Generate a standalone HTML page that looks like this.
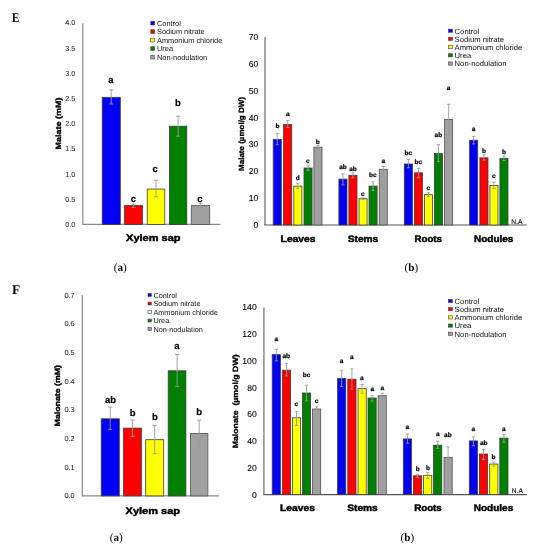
<!DOCTYPE html>
<html><head><meta charset="utf-8"><title>Figure E F</title>
<style>
html,body{margin:0;padding:0;background:#fff;}
svg{display:block;font-family:"Liberation Sans",sans-serif;text-rendering:geometricPrecision;}
</style></head><body>
<svg width="540" height="550" viewBox="0 0 540 550">
<rect width="540" height="550" fill="#fff"/>
<text x="11.9" y="21.9" font-size="13.4" text-anchor="start" font-weight="bold" fill="#000" textLength="7.3" lengthAdjust="spacingAndGlyphs" font-family="Liberation Serif, serif">E</text>
<text x="75.4" y="226.9" font-size="7.3" text-anchor="end" font-weight="normal" fill="#333" stroke="#333" stroke-width="0.06">0.0</text>
<text x="75.4" y="201.7" font-size="7.3" text-anchor="end" font-weight="normal" fill="#333" stroke="#333" stroke-width="0.06">0.5</text>
<text x="75.4" y="176.5" font-size="7.3" text-anchor="end" font-weight="normal" fill="#333" stroke="#333" stroke-width="0.06">1.0</text>
<text x="75.4" y="151.3" font-size="7.3" text-anchor="end" font-weight="normal" fill="#333" stroke="#333" stroke-width="0.06">1.5</text>
<text x="75.4" y="126.1" font-size="7.3" text-anchor="end" font-weight="normal" fill="#333" stroke="#333" stroke-width="0.06">2.0</text>
<text x="75.4" y="100.9" font-size="7.3" text-anchor="end" font-weight="normal" fill="#333" stroke="#333" stroke-width="0.06">2.5</text>
<text x="75.4" y="75.7" font-size="7.3" text-anchor="end" font-weight="normal" fill="#333" stroke="#333" stroke-width="0.06">3.0</text>
<text x="75.4" y="50.5" font-size="7.3" text-anchor="end" font-weight="normal" fill="#333" stroke="#333" stroke-width="0.06">3.5</text>
<text x="75.4" y="25.3" font-size="7.3" text-anchor="end" font-weight="normal" fill="#333" stroke="#333" stroke-width="0.06">4.0</text>
<path d="M82.8 23.2V224.4H220.5" stroke="#8a8a8a" stroke-width="1.2" fill="none"/>
<text x="0.0" y="0.0" font-size="7.6" text-anchor="middle" font-weight="bold" fill="#000" transform="translate(60.6 123.5) rotate(-90)" textLength="51.8" lengthAdjust="spacingAndGlyphs" stroke="#000" stroke-width="0.35">Malate (mM)</text>
<rect x="102.2" y="97.3" width="18.1" height="127.1" fill="#0000f5" stroke="#3e3e3e" stroke-width="0.8"/>
<path d="M111.2 90.0V104.0M109.2 90.0h4.0M109.2 104.0h4.0" stroke="#9a9a9a" stroke-width="0.9" fill="none"/>
<rect x="124.6" y="205.4" width="17.9" height="19.0" fill="#ff0000" stroke="#3e3e3e" stroke-width="0.8"/>
<path d="M133.6 204.0V207.3M131.6 204.0h4.0M131.6 207.3h4.0" stroke="#9a9a9a" stroke-width="0.9" fill="none"/>
<rect x="147.2" y="189.0" width="17.6" height="35.4" fill="#ffff00" stroke="#3e3e3e" stroke-width="0.8"/>
<path d="M156.0 180.2V196.7M154.0 180.2h4.0M154.0 196.7h4.0" stroke="#9a9a9a" stroke-width="0.9" fill="none"/>
<rect x="169.4" y="126.2" width="17.4" height="98.2" fill="#008000" stroke="#3e3e3e" stroke-width="0.8"/>
<path d="M178.1 116.2V136.2M176.1 116.2h4.0M176.1 136.2h4.0" stroke="#9a9a9a" stroke-width="0.9" fill="none"/>
<rect x="191.3" y="205.6" width="18.4" height="18.8" fill="#a0a0a0" stroke="#525252" stroke-width="0.8"/>
<path d="M200.5 203.3V207.6M198.5 203.3h4.0M198.5 207.6h4.0" stroke="#9a9a9a" stroke-width="0.9" fill="none"/>
<text x="110.8" y="82.9" font-size="9.5" text-anchor="middle" font-weight="bold" fill="#000" stroke="#000" stroke-width="0.18">a</text>
<text x="133.4" y="202.2" font-size="9.5" text-anchor="middle" font-weight="bold" fill="#000" stroke="#000" stroke-width="0.18">c</text>
<text x="155.2" y="172.0" font-size="9.5" text-anchor="middle" font-weight="bold" fill="#000" stroke="#000" stroke-width="0.18">c</text>
<text x="178.0" y="106.0" font-size="9.5" text-anchor="middle" font-weight="bold" fill="#000" stroke="#000" stroke-width="0.18">b</text>
<text x="200.0" y="202.4" font-size="9.5" text-anchor="middle" font-weight="bold" fill="#000" stroke="#000" stroke-width="0.18">c</text>
<text x="153.3" y="240.7" font-size="9.4" text-anchor="middle" font-weight="bold" fill="#000" textLength="54.5" lengthAdjust="spacingAndGlyphs" stroke="#000" stroke-width="0.45">Xylem sap</text>
<rect x="150.8" y="21.2" width="3.8" height="3.8" fill="#0000f5" stroke="#444" stroke-width="0.6"/>
<text x="157.0" y="25.8" font-size="7.4" text-anchor="start" font-weight="normal" fill="#111" >Control</text>
<rect x="150.8" y="29.7" width="3.8" height="3.8" fill="#ff0000" stroke="#444" stroke-width="0.6"/>
<text x="157.0" y="34.3" font-size="7.4" text-anchor="start" font-weight="normal" fill="#111" >Sodium nitrate</text>
<rect x="150.8" y="38.2" width="3.8" height="3.8" fill="#ffff00" stroke="#444" stroke-width="0.6"/>
<text x="157.0" y="42.8" font-size="7.4" text-anchor="start" font-weight="normal" fill="#111" >Ammonium chloride</text>
<rect x="150.8" y="46.7" width="3.8" height="3.8" fill="#008000" stroke="#444" stroke-width="0.6"/>
<text x="157.0" y="51.3" font-size="7.4" text-anchor="start" font-weight="normal" fill="#111" >Urea</text>
<rect x="150.8" y="55.2" width="3.8" height="3.8" fill="#a0a0a0" stroke="#444" stroke-width="0.6"/>
<text x="157.0" y="59.8" font-size="7.4" text-anchor="start" font-weight="normal" fill="#111" >Non-nodulation</text>
<text x="120.2" y="270.9" font-size="11.1" text-anchor="middle" font-weight="normal" fill="#000" font-family="Liberation Serif, serif">(<tspan font-weight="bold">a</tspan>)</text>
<text x="258.2" y="228.0" font-size="8.6" text-anchor="end" font-weight="normal" fill="#000" stroke="#000" stroke-width="0.08">0</text>
<text x="258.2" y="201.1" font-size="8.6" text-anchor="end" font-weight="normal" fill="#000" stroke="#000" stroke-width="0.08">10</text>
<text x="258.2" y="174.3" font-size="8.6" text-anchor="end" font-weight="normal" fill="#000" stroke="#000" stroke-width="0.08">20</text>
<text x="258.2" y="147.4" font-size="8.6" text-anchor="end" font-weight="normal" fill="#000" stroke="#000" stroke-width="0.08">30</text>
<text x="258.2" y="120.6" font-size="8.6" text-anchor="end" font-weight="normal" fill="#000" stroke="#000" stroke-width="0.08">40</text>
<text x="258.2" y="93.7" font-size="8.6" text-anchor="end" font-weight="normal" fill="#000" stroke="#000" stroke-width="0.08">50</text>
<text x="258.2" y="66.8" font-size="8.6" text-anchor="end" font-weight="normal" fill="#000" stroke="#000" stroke-width="0.08">60</text>
<text x="258.2" y="40.0" font-size="8.6" text-anchor="end" font-weight="normal" fill="#000" stroke="#000" stroke-width="0.08">70</text>
<path d="M265.0 37V225.0" stroke="#777" stroke-width="1.3" fill="none"/><path d="M264.4 225.0H526.8" stroke="#555" stroke-width="1.1" fill="none"/>
<text x="0.0" y="0.0" font-size="7.6" text-anchor="middle" font-weight="bold" fill="#000" transform="translate(243.6 134) rotate(-90)" textLength="73.8" lengthAdjust="spacingAndGlyphs" stroke="#000" stroke-width="0.3">Malate (µmol/g DW)</text>
<rect x="273.2" y="139.4" width="8.1" height="85.6" fill="#0000f5" stroke="#3e3e3e" stroke-width="0.8"/>
<path d="M277.2 133.4V144.7M275.6 133.4h3.2M275.6 144.7h3.2" stroke="#9a9a9a" stroke-width="0.9" fill="none"/>
<rect x="283.6" y="124.4" width="8.1" height="100.6" fill="#ff0000" stroke="#3e3e3e" stroke-width="0.8"/>
<path d="M287.7 120.6V127.6M286.1 120.6h3.2M286.1 127.6h3.2" stroke="#9a9a9a" stroke-width="0.9" fill="none"/>
<rect x="293.8" y="186.1" width="8.1" height="38.9" fill="#ffff00" stroke="#3e3e3e" stroke-width="0.8"/>
<path d="M297.9 183.3V188.4M296.2 183.3h3.2M296.2 188.4h3.2" stroke="#9a9a9a" stroke-width="0.9" fill="none"/>
<rect x="304.0" y="168.0" width="8.1" height="57.0" fill="#008000" stroke="#3e3e3e" stroke-width="0.8"/>
<path d="M308.1 165.3V170.3M306.4 165.3h3.2M306.4 170.3h3.2" stroke="#9a9a9a" stroke-width="0.9" fill="none"/>
<rect x="313.9" y="147.2" width="8.1" height="77.8" fill="#a0a0a0" stroke="#525252" stroke-width="0.8"/>
<path d="M317.9 145.7V148.4M316.3 145.7h3.2M316.3 148.4h3.2" stroke="#9a9a9a" stroke-width="0.9" fill="none"/>
<text x="277.4" y="128.4" font-size="6.5" text-anchor="middle" font-weight="bold" fill="#000" stroke="#000" stroke-width="0.22">b</text>
<text x="287.7" y="116.4" font-size="6.5" text-anchor="middle" font-weight="bold" fill="#000" stroke="#000" stroke-width="0.22">a</text>
<text x="297.7" y="179.8" font-size="6.5" text-anchor="middle" font-weight="bold" fill="#000" stroke="#000" stroke-width="0.22">d</text>
<text x="307.7" y="163.0" font-size="6.5" text-anchor="middle" font-weight="bold" fill="#000" stroke="#000" stroke-width="0.22">c</text>
<text x="317.7" y="143.5" font-size="6.5" text-anchor="middle" font-weight="bold" fill="#000" stroke="#000" stroke-width="0.22">b</text>
<rect x="338.9" y="179.1" width="8.1" height="45.9" fill="#0000f5" stroke="#3e3e3e" stroke-width="0.8"/>
<path d="M342.9 174.0V184.9M341.3 174.0h3.2M341.3 184.9h3.2" stroke="#9a9a9a" stroke-width="0.9" fill="none"/>
<rect x="348.9" y="175.3" width="8.1" height="49.7" fill="#ff0000" stroke="#3e3e3e" stroke-width="0.8"/>
<path d="M352.9 172.8V177.8M351.3 172.8h3.2M351.3 177.8h3.2" stroke="#9a9a9a" stroke-width="0.9" fill="none"/>
<rect x="359.0" y="198.7" width="8.1" height="26.3" fill="#ffff00" stroke="#3e3e3e" stroke-width="0.8"/>
<path d="M363.1 197.9V199.5M361.4 197.9h3.2M361.4 199.5h3.2" stroke="#9a9a9a" stroke-width="0.9" fill="none"/>
<rect x="369.0" y="186.1" width="8.1" height="38.9" fill="#008000" stroke="#3e3e3e" stroke-width="0.8"/>
<path d="M373.1 181.8V190.4M371.4 181.8h3.2M371.4 190.4h3.2" stroke="#9a9a9a" stroke-width="0.9" fill="none"/>
<rect x="379.2" y="169.3" width="8.1" height="55.7" fill="#a0a0a0" stroke="#525252" stroke-width="0.8"/>
<path d="M383.2 166.5V172.3M381.6 166.5h3.2M381.6 172.3h3.2" stroke="#9a9a9a" stroke-width="0.9" fill="none"/>
<text x="343.0" y="169.2" font-size="6.5" text-anchor="middle" font-weight="bold" fill="#000" stroke="#000" stroke-width="0.22">ab</text>
<text x="353.0" y="170.8" font-size="6.5" text-anchor="middle" font-weight="bold" fill="#000" stroke="#000" stroke-width="0.22">ab</text>
<text x="362.9" y="196.1" font-size="6.5" text-anchor="middle" font-weight="bold" fill="#000" stroke="#000" stroke-width="0.22">c</text>
<text x="372.8" y="177.1" font-size="6.5" text-anchor="middle" font-weight="bold" fill="#000" stroke="#000" stroke-width="0.22">bc</text>
<text x="383.2" y="162.8" font-size="6.5" text-anchor="middle" font-weight="bold" fill="#000" stroke="#000" stroke-width="0.22">a</text>
<rect x="404.3" y="164.0" width="8.1" height="61.0" fill="#0000f5" stroke="#3e3e3e" stroke-width="0.8"/>
<path d="M408.4 159.5V167.8M406.8 159.5h3.2M406.8 167.8h3.2" stroke="#9a9a9a" stroke-width="0.9" fill="none"/>
<rect x="414.4" y="172.8" width="8.1" height="52.2" fill="#ff0000" stroke="#3e3e3e" stroke-width="0.8"/>
<path d="M418.4 168.3V177.8M416.8 168.3h3.2M416.8 177.8h3.2" stroke="#9a9a9a" stroke-width="0.9" fill="none"/>
<rect x="424.4" y="194.6" width="8.1" height="30.4" fill="#ffff00" stroke="#3e3e3e" stroke-width="0.8"/>
<path d="M428.4 192.4V196.6M426.8 192.4h3.2M426.8 196.6h3.2" stroke="#9a9a9a" stroke-width="0.9" fill="none"/>
<rect x="434.4" y="153.5" width="8.1" height="71.5" fill="#008000" stroke="#3e3e3e" stroke-width="0.8"/>
<path d="M438.4 144.7V161.5M436.8 144.7h3.2M436.8 161.5h3.2" stroke="#9a9a9a" stroke-width="0.9" fill="none"/>
<rect x="444.6" y="119.4" width="8.1" height="105.6" fill="#a0a0a0" stroke="#525252" stroke-width="0.8"/>
<path d="M448.7 104.3V134.7M447.1 104.3h3.2M447.1 134.7h3.2" stroke="#9a9a9a" stroke-width="0.9" fill="none"/>
<text x="408.3" y="154.5" font-size="6.5" text-anchor="middle" font-weight="bold" fill="#000" stroke="#000" stroke-width="0.22">bc</text>
<text x="418.4" y="164.0" font-size="6.5" text-anchor="middle" font-weight="bold" fill="#000" stroke="#000" stroke-width="0.22">bc</text>
<text x="428.4" y="190.4" font-size="6.5" text-anchor="middle" font-weight="bold" fill="#000" stroke="#000" stroke-width="0.22">c</text>
<text x="438.4" y="137.4" font-size="6.5" text-anchor="middle" font-weight="bold" fill="#000" stroke="#000" stroke-width="0.22">ab</text>
<text x="448.6" y="90.0" font-size="6.5" text-anchor="middle" font-weight="bold" fill="#000" stroke="#000" stroke-width="0.22">a</text>
<rect x="469.6" y="140.2" width="8.1" height="84.8" fill="#0000f5" stroke="#3e3e3e" stroke-width="0.8"/>
<path d="M473.7 136.4V144.0M472.1 136.4h3.2M472.1 144.0h3.2" stroke="#9a9a9a" stroke-width="0.9" fill="none"/>
<rect x="479.9" y="157.8" width="8.1" height="67.2" fill="#ff0000" stroke="#3e3e3e" stroke-width="0.8"/>
<path d="M483.9 154.7V160.3M482.3 154.7h3.2M482.3 160.3h3.2" stroke="#9a9a9a" stroke-width="0.9" fill="none"/>
<rect x="489.9" y="185.4" width="8.1" height="39.6" fill="#ffff00" stroke="#3e3e3e" stroke-width="0.8"/>
<path d="M493.9 182.1V188.6M492.3 182.1h3.2M492.3 188.6h3.2" stroke="#9a9a9a" stroke-width="0.9" fill="none"/>
<rect x="499.9" y="158.3" width="8.1" height="66.7" fill="#008000" stroke="#3e3e3e" stroke-width="0.8"/>
<path d="M503.9 156.2V160.5M502.3 156.2h3.2M502.3 160.5h3.2" stroke="#9a9a9a" stroke-width="0.9" fill="none"/>
<text x="473.6" y="131.4" font-size="6.5" text-anchor="middle" font-weight="bold" fill="#000" stroke="#000" stroke-width="0.22">a</text>
<text x="484.0" y="152.7" font-size="6.5" text-anchor="middle" font-weight="bold" fill="#000" stroke="#000" stroke-width="0.22">b</text>
<text x="493.9" y="178.3" font-size="6.5" text-anchor="middle" font-weight="bold" fill="#000" stroke="#000" stroke-width="0.22">c</text>
<text x="503.9" y="154.0" font-size="6.5" text-anchor="middle" font-weight="bold" fill="#000" stroke="#000" stroke-width="0.22">b</text>
<text x="516.9" y="223.6" font-size="6.7" text-anchor="middle" font-weight="normal" fill="#000" stroke="#000" stroke-width="0.1">N.A</text>
<text x="298.1" y="241.7" font-size="9.4" text-anchor="middle" font-weight="bold" fill="#000" textLength="35" lengthAdjust="spacingAndGlyphs" stroke="#000" stroke-width="0.45">Leaves</text>
<text x="363.0" y="241.7" font-size="9.4" text-anchor="middle" font-weight="bold" fill="#000" textLength="30.5" lengthAdjust="spacingAndGlyphs" stroke="#000" stroke-width="0.45">Stems</text>
<text x="428.2" y="241.7" font-size="9.4" text-anchor="middle" font-weight="bold" fill="#000" textLength="27.6" lengthAdjust="spacingAndGlyphs" stroke="#000" stroke-width="0.45">Roots</text>
<text x="493.7" y="241.7" font-size="9.4" text-anchor="middle" font-weight="bold" fill="#000" textLength="39.5" lengthAdjust="spacingAndGlyphs" stroke="#000" stroke-width="0.45">Nodules</text>
<rect x="448.4" y="29.1" width="4.0" height="3.2" fill="#0000f5" stroke="#444" stroke-width="0.6"/>
<text x="454.6" y="33.5" font-size="7.66" text-anchor="start" font-weight="normal" fill="#111" >Control</text>
<rect x="448.4" y="37.3" width="4.0" height="3.2" fill="#ff0000" stroke="#444" stroke-width="0.6"/>
<text x="454.6" y="41.7" font-size="7.66" text-anchor="start" font-weight="normal" fill="#111" >Sodium nitrate</text>
<rect x="448.4" y="45.5" width="4.0" height="3.2" fill="#ffff00" stroke="#444" stroke-width="0.6"/>
<text x="454.6" y="49.9" font-size="7.66" text-anchor="start" font-weight="normal" fill="#111" >Ammonium chloride</text>
<rect x="448.4" y="53.7" width="4.0" height="3.2" fill="#008000" stroke="#444" stroke-width="0.6"/>
<text x="454.6" y="58.1" font-size="7.66" text-anchor="start" font-weight="normal" fill="#111" >Urea</text>
<rect x="448.4" y="61.9" width="4.0" height="3.2" fill="#a0a0a0" stroke="#444" stroke-width="0.6"/>
<text x="454.6" y="66.3" font-size="7.66" text-anchor="start" font-weight="normal" fill="#111" >Non-nodulation</text>
<text x="411.4" y="270.9" font-size="11.1" text-anchor="middle" font-weight="normal" fill="#000" font-family="Liberation Serif, serif">(<tspan font-weight="bold">b</tspan>)</text>
<text x="11.9" y="293.7" font-size="13.4" text-anchor="start" font-weight="bold" fill="#000" font-family="Liberation Serif, serif">F</text>
<text x="74.6" y="498.4" font-size="7.3" text-anchor="end" font-weight="normal" fill="#333" stroke="#333" stroke-width="0.06">0.0</text>
<text x="74.6" y="469.7" font-size="7.3" text-anchor="end" font-weight="normal" fill="#333" stroke="#333" stroke-width="0.06">0.1</text>
<text x="74.6" y="441.0" font-size="7.3" text-anchor="end" font-weight="normal" fill="#333" stroke="#333" stroke-width="0.06">0.2</text>
<text x="74.6" y="412.3" font-size="7.3" text-anchor="end" font-weight="normal" fill="#333" stroke="#333" stroke-width="0.06">0.3</text>
<text x="74.6" y="383.6" font-size="7.3" text-anchor="end" font-weight="normal" fill="#333" stroke="#333" stroke-width="0.06">0.4</text>
<text x="74.6" y="354.9" font-size="7.3" text-anchor="end" font-weight="normal" fill="#333" stroke="#333" stroke-width="0.06">0.5</text>
<text x="74.6" y="326.2" font-size="7.3" text-anchor="end" font-weight="normal" fill="#333" stroke="#333" stroke-width="0.06">0.6</text>
<text x="74.6" y="297.5" font-size="7.3" text-anchor="end" font-weight="normal" fill="#333" stroke="#333" stroke-width="0.06">0.7</text>
<path d="M82.3 295V495.9H219" stroke="#8a8a8a" stroke-width="1.2" fill="none"/>
<text x="0.0" y="0.0" font-size="7.6" text-anchor="middle" font-weight="bold" fill="#000" transform="translate(59.6 395.7) rotate(-90)" textLength="61.4" lengthAdjust="spacingAndGlyphs" stroke="#000" stroke-width="0.35">Malonate (mM)</text>
<rect x="101.2" y="418.8" width="18.1" height="77.1" fill="#0000f5" stroke="#3e3e3e" stroke-width="0.8"/>
<path d="M110.2 407.0V429.6M108.2 407.0h4.0M108.2 429.6h4.0" stroke="#9a9a9a" stroke-width="0.9" fill="none"/>
<rect x="123.6" y="428.1" width="17.8" height="67.8" fill="#ff0000" stroke="#3e3e3e" stroke-width="0.8"/>
<path d="M132.5 420.1V436.4M130.5 420.1h4.0M130.5 436.4h4.0" stroke="#9a9a9a" stroke-width="0.9" fill="none"/>
<rect x="145.7" y="439.7" width="18.0" height="56.2" fill="#ffff00" stroke="#3e3e3e" stroke-width="0.8"/>
<path d="M154.7 425.6V453.7M152.7 425.6h4.0M152.7 453.7h4.0" stroke="#9a9a9a" stroke-width="0.9" fill="none"/>
<rect x="168.2" y="370.8" width="17.7" height="125.1" fill="#008000" stroke="#3e3e3e" stroke-width="0.8"/>
<path d="M177.1 354.5V386.6M175.1 354.5h4.0M175.1 386.6h4.0" stroke="#9a9a9a" stroke-width="0.9" fill="none"/>
<rect x="190.4" y="433.4" width="17.5" height="62.5" fill="#a0a0a0" stroke="#525252" stroke-width="0.8"/>
<path d="M199.2 420.1V447.2M197.2 420.1h4.0M197.2 447.2h4.0" stroke="#9a9a9a" stroke-width="0.9" fill="none"/>
<text x="110.6" y="403.0" font-size="9.5" text-anchor="middle" font-weight="bold" fill="#000" stroke="#000" stroke-width="0.18">ab</text>
<text x="132.6" y="415.8" font-size="9.5" text-anchor="middle" font-weight="bold" fill="#000" stroke="#000" stroke-width="0.18">b</text>
<text x="154.9" y="420.1" font-size="9.5" text-anchor="middle" font-weight="bold" fill="#000" stroke="#000" stroke-width="0.18">b</text>
<text x="176.9" y="349.0" font-size="9.5" text-anchor="middle" font-weight="bold" fill="#000" stroke="#000" stroke-width="0.18">a</text>
<text x="199.1" y="414.6" font-size="9.5" text-anchor="middle" font-weight="bold" fill="#000" stroke="#000" stroke-width="0.18">b</text>
<text x="152.8" y="513.7" font-size="9.4" text-anchor="middle" font-weight="bold" fill="#000" textLength="54.5" lengthAdjust="spacingAndGlyphs" stroke="#000" stroke-width="0.45">Xylem sap</text>
<rect x="148.0" y="293.6" width="3.3" height="2.9" fill="#0000f5" stroke="#444" stroke-width="0.6"/>
<text x="153.4" y="297.6" font-size="7.3" text-anchor="start" font-weight="normal" fill="#111" >Control</text>
<rect x="148.0" y="302.1" width="3.3" height="2.9" fill="#ff0000" stroke="#444" stroke-width="0.6"/>
<text x="153.4" y="306.1" font-size="7.3" text-anchor="start" font-weight="normal" fill="#111" >Sodium nitrate</text>
<rect x="148.0" y="310.6" width="3.3" height="2.9" fill="#ffffff" stroke="#444" stroke-width="0.6"/>
<text x="153.4" y="314.6" font-size="7.3" text-anchor="start" font-weight="normal" fill="#111" >Ammonium chloride</text>
<rect x="148.0" y="319.1" width="3.3" height="2.9" fill="#008000" stroke="#444" stroke-width="0.6"/>
<text x="153.4" y="323.1" font-size="7.3" text-anchor="start" font-weight="normal" fill="#111" >Urea</text>
<rect x="148.0" y="327.6" width="3.3" height="2.9" fill="#a0a0a0" stroke="#444" stroke-width="0.6"/>
<text x="153.4" y="331.6" font-size="7.3" text-anchor="start" font-weight="normal" fill="#111" >Non-nodulation</text>
<text x="116.3" y="540.9" font-size="11.1" text-anchor="middle" font-weight="normal" fill="#000" font-family="Liberation Serif, serif">(<tspan font-weight="bold">a</tspan>)</text>
<text x="256.7" y="497.6" font-size="8.6" text-anchor="end" font-weight="normal" fill="#000" stroke="#000" stroke-width="0.08">0</text>
<text x="256.7" y="470.8" font-size="8.6" text-anchor="end" font-weight="normal" fill="#000" stroke="#000" stroke-width="0.08">20</text>
<text x="256.7" y="444.0" font-size="8.6" text-anchor="end" font-weight="normal" fill="#000" stroke="#000" stroke-width="0.08">40</text>
<text x="256.7" y="417.2" font-size="8.6" text-anchor="end" font-weight="normal" fill="#000" stroke="#000" stroke-width="0.08">60</text>
<text x="256.7" y="390.5" font-size="8.6" text-anchor="end" font-weight="normal" fill="#000" stroke="#000" stroke-width="0.08">80</text>
<text x="256.7" y="363.7" font-size="8.6" text-anchor="end" font-weight="normal" fill="#000" stroke="#000" stroke-width="0.08">100</text>
<text x="256.7" y="336.9" font-size="8.6" text-anchor="end" font-weight="normal" fill="#000" stroke="#000" stroke-width="0.08">120</text>
<text x="256.7" y="310.1" font-size="8.6" text-anchor="end" font-weight="normal" fill="#000" stroke="#000" stroke-width="0.08">140</text>
<path d="M263.9 307.5V494.6" stroke="#777" stroke-width="1.3" fill="none"/><path d="M263.3 494.6H526.8" stroke="#555" stroke-width="1.1" fill="none"/>
<text x="0.0" y="0.0" font-size="7.6" text-anchor="middle" font-weight="bold" fill="#000" transform="translate(238.3 401.4) rotate(-90)" textLength="93.9" lengthAdjust="spacingAndGlyphs" stroke="#000" stroke-width="0.3" xml:space="preserve">Malonate  (µmol/g DW)</text>
<rect x="272.2" y="354.6" width="8.2" height="140.0" fill="#0000f5" stroke="#3e3e3e" stroke-width="0.8"/>
<path d="M276.3 349.3V360.9M274.7 349.3h3.2M274.7 360.9h3.2" stroke="#9a9a9a" stroke-width="0.9" fill="none"/>
<rect x="282.4" y="370.2" width="8.2" height="124.4" fill="#ff0000" stroke="#3e3e3e" stroke-width="0.8"/>
<path d="M286.5 363.4V375.9M284.9 363.4h3.2M284.9 375.9h3.2" stroke="#9a9a9a" stroke-width="0.9" fill="none"/>
<rect x="292.4" y="417.8" width="8.2" height="76.8" fill="#ffff00" stroke="#3e3e3e" stroke-width="0.8"/>
<path d="M296.5 411.6V425.4M294.9 411.6h3.2M294.9 425.4h3.2" stroke="#9a9a9a" stroke-width="0.9" fill="none"/>
<rect x="302.4" y="393.0" width="8.2" height="101.6" fill="#008000" stroke="#3e3e3e" stroke-width="0.8"/>
<path d="M306.5 385.2V401.0M304.9 385.2h3.2M304.9 401.0h3.2" stroke="#9a9a9a" stroke-width="0.9" fill="none"/>
<rect x="312.5" y="409.0" width="8.2" height="85.6" fill="#a0a0a0" stroke="#525252" stroke-width="0.8"/>
<path d="M316.6 406.8V411.0M315.0 406.8h3.2M315.0 411.0h3.2" stroke="#9a9a9a" stroke-width="0.9" fill="none"/>
<text x="276.3" y="341.2" font-size="6.5" text-anchor="middle" font-weight="bold" fill="#000" stroke="#000" stroke-width="0.22">a</text>
<text x="286.3" y="357.8" font-size="6.5" text-anchor="middle" font-weight="bold" fill="#000" stroke="#000" stroke-width="0.22">ab</text>
<text x="296.4" y="405.8" font-size="6.5" text-anchor="middle" font-weight="bold" fill="#000" stroke="#000" stroke-width="0.22">c</text>
<text x="306.5" y="377.4" font-size="6.5" text-anchor="middle" font-weight="bold" fill="#000" stroke="#000" stroke-width="0.22">bc</text>
<text x="316.5" y="402.8" font-size="6.5" text-anchor="middle" font-weight="bold" fill="#000" stroke="#000" stroke-width="0.22">c</text>
<rect x="337.6" y="378.4" width="8.2" height="116.2" fill="#0000f5" stroke="#3e3e3e" stroke-width="0.8"/>
<path d="M341.7 370.2V386.5M340.1 370.2h3.2M340.1 386.5h3.2" stroke="#9a9a9a" stroke-width="0.9" fill="none"/>
<rect x="347.8" y="379.2" width="8.2" height="115.4" fill="#ff0000" stroke="#3e3e3e" stroke-width="0.8"/>
<path d="M351.9 368.9V389.2M350.3 368.9h3.2M350.3 389.2h3.2" stroke="#9a9a9a" stroke-width="0.9" fill="none"/>
<rect x="358.0" y="388.7" width="8.2" height="105.9" fill="#ffff00" stroke="#3e3e3e" stroke-width="0.8"/>
<path d="M362.1 384.5V393.2M360.5 384.5h3.2M360.5 393.2h3.2" stroke="#9a9a9a" stroke-width="0.9" fill="none"/>
<rect x="368.0" y="398.0" width="8.2" height="96.6" fill="#008000" stroke="#3e3e3e" stroke-width="0.8"/>
<path d="M372.1 395.7V401.0M370.5 395.7h3.2M370.5 401.0h3.2" stroke="#9a9a9a" stroke-width="0.9" fill="none"/>
<rect x="378.1" y="395.7" width="8.2" height="98.9" fill="#a0a0a0" stroke="#525252" stroke-width="0.8"/>
<path d="M382.2 393.2V397.8M380.6 393.2h3.2M380.6 397.8h3.2" stroke="#9a9a9a" stroke-width="0.9" fill="none"/>
<text x="341.6" y="363.4" font-size="6.5" text-anchor="middle" font-weight="bold" fill="#000" stroke="#000" stroke-width="0.22">a</text>
<text x="351.8" y="359.4" font-size="6.5" text-anchor="middle" font-weight="bold" fill="#000" stroke="#000" stroke-width="0.22">a</text>
<text x="361.9" y="380.2" font-size="6.5" text-anchor="middle" font-weight="bold" fill="#000" stroke="#000" stroke-width="0.22">a</text>
<text x="372.2" y="391.3" font-size="6.5" text-anchor="middle" font-weight="bold" fill="#000" stroke="#000" stroke-width="0.22">a</text>
<text x="382.2" y="389.5" font-size="6.5" text-anchor="middle" font-weight="bold" fill="#000" stroke="#000" stroke-width="0.22">a</text>
<rect x="403.3" y="438.9" width="8.2" height="55.7" fill="#0000f5" stroke="#3e3e3e" stroke-width="0.8"/>
<path d="M407.4 434.1V443.2M405.8 434.1h3.2M405.8 443.2h3.2" stroke="#9a9a9a" stroke-width="0.9" fill="none"/>
<rect x="413.4" y="475.8" width="8.2" height="18.8" fill="#ff0000" stroke="#3e3e3e" stroke-width="0.8"/>
<path d="M417.5 474.3V477.3M415.9 474.3h3.2M415.9 477.3h3.2" stroke="#9a9a9a" stroke-width="0.9" fill="none"/>
<rect x="423.6" y="475.3" width="8.2" height="19.3" fill="#ffff00" stroke="#3e3e3e" stroke-width="0.8"/>
<path d="M427.7 472.3V478.5M426.1 472.3h3.2M426.1 478.5h3.2" stroke="#9a9a9a" stroke-width="0.9" fill="none"/>
<rect x="433.6" y="445.2" width="8.2" height="49.4" fill="#008000" stroke="#3e3e3e" stroke-width="0.8"/>
<path d="M437.7 441.4V448.4M436.1 441.4h3.2M436.1 448.4h3.2" stroke="#9a9a9a" stroke-width="0.9" fill="none"/>
<rect x="444.0" y="457.5" width="8.2" height="37.1" fill="#a0a0a0" stroke="#525252" stroke-width="0.8"/>
<path d="M448.1 446.9V467.8M446.5 446.9h3.2M446.5 467.8h3.2" stroke="#9a9a9a" stroke-width="0.9" fill="none"/>
<text x="407.3" y="429.4" font-size="6.5" text-anchor="middle" font-weight="bold" fill="#000" stroke="#000" stroke-width="0.22">a</text>
<text x="417.8" y="471.0" font-size="6.5" text-anchor="middle" font-weight="bold" fill="#000" stroke="#000" stroke-width="0.22">b</text>
<text x="427.9" y="469.6" font-size="6.5" text-anchor="middle" font-weight="bold" fill="#000" stroke="#000" stroke-width="0.22">b</text>
<text x="437.9" y="435.7" font-size="6.5" text-anchor="middle" font-weight="bold" fill="#000" stroke="#000" stroke-width="0.22">a</text>
<text x="447.9" y="436.6" font-size="6.5" text-anchor="middle" font-weight="bold" fill="#000" stroke="#000" stroke-width="0.22">ab</text>
<rect x="469.3" y="440.9" width="8.2" height="53.7" fill="#0000f5" stroke="#3e3e3e" stroke-width="0.8"/>
<path d="M473.4 436.9V445.7M471.8 436.9h3.2M471.8 445.7h3.2" stroke="#9a9a9a" stroke-width="0.9" fill="none"/>
<rect x="479.4" y="454.0" width="8.2" height="40.6" fill="#ff0000" stroke="#3e3e3e" stroke-width="0.8"/>
<path d="M483.5 449.4V459.7M481.9 449.4h3.2M481.9 459.7h3.2" stroke="#9a9a9a" stroke-width="0.9" fill="none"/>
<rect x="489.7" y="464.0" width="8.2" height="30.6" fill="#ffff00" stroke="#3e3e3e" stroke-width="0.8"/>
<path d="M493.8 462.0V466.2M492.2 462.0h3.2M492.2 466.2h3.2" stroke="#9a9a9a" stroke-width="0.9" fill="none"/>
<rect x="499.8" y="438.1" width="8.2" height="56.5" fill="#008000" stroke="#3e3e3e" stroke-width="0.8"/>
<path d="M503.9 434.6V442.2M502.3 434.6h3.2M502.3 442.2h3.2" stroke="#9a9a9a" stroke-width="0.9" fill="none"/>
<text x="473.3" y="431.2" font-size="6.5" text-anchor="middle" font-weight="bold" fill="#000" stroke="#000" stroke-width="0.22">a</text>
<text x="483.8" y="444.9" font-size="6.5" text-anchor="middle" font-weight="bold" fill="#000" stroke="#000" stroke-width="0.22">ab</text>
<text x="493.6" y="459.0" font-size="6.5" text-anchor="middle" font-weight="bold" fill="#000" stroke="#000" stroke-width="0.22">b</text>
<text x="503.9" y="431.2" font-size="6.5" text-anchor="middle" font-weight="bold" fill="#000" stroke="#000" stroke-width="0.22">a</text>
<text x="517.3" y="493.3" font-size="6.7" text-anchor="middle" font-weight="normal" fill="#000" stroke="#000" stroke-width="0.1">N.A</text>
<text x="297.5" y="511.2" font-size="9.4" text-anchor="middle" font-weight="bold" fill="#000" textLength="35" lengthAdjust="spacingAndGlyphs" stroke="#000" stroke-width="0.45">Leaves</text>
<text x="362.5" y="511.2" font-size="9.4" text-anchor="middle" font-weight="bold" fill="#000" textLength="30.5" lengthAdjust="spacingAndGlyphs" stroke="#000" stroke-width="0.45">Stems</text>
<text x="428.0" y="511.2" font-size="9.4" text-anchor="middle" font-weight="bold" fill="#000" textLength="27.6" lengthAdjust="spacingAndGlyphs" stroke="#000" stroke-width="0.45">Roots</text>
<text x="493.5" y="511.2" font-size="9.4" text-anchor="middle" font-weight="bold" fill="#000" textLength="39.5" lengthAdjust="spacingAndGlyphs" stroke="#000" stroke-width="0.45">Nodules</text>
<rect x="448.4" y="299.4" width="4.0" height="3.2" fill="#0000f5" stroke="#444" stroke-width="0.6"/>
<text x="454.6" y="303.8" font-size="7.66" text-anchor="start" font-weight="normal" fill="#111" >Control</text>
<rect x="448.4" y="307.6" width="4.0" height="3.2" fill="#ff0000" stroke="#444" stroke-width="0.6"/>
<text x="454.6" y="312.0" font-size="7.66" text-anchor="start" font-weight="normal" fill="#111" >Sodium nitrate</text>
<rect x="448.4" y="315.8" width="4.0" height="3.2" fill="#ffff00" stroke="#444" stroke-width="0.6"/>
<text x="454.6" y="320.2" font-size="7.66" text-anchor="start" font-weight="normal" fill="#111" >Ammonium chloride</text>
<rect x="448.4" y="324.0" width="4.0" height="3.2" fill="#008000" stroke="#444" stroke-width="0.6"/>
<text x="454.6" y="328.4" font-size="7.66" text-anchor="start" font-weight="normal" fill="#111" >Urea</text>
<rect x="448.4" y="332.2" width="4.0" height="3.2" fill="#a0a0a0" stroke="#444" stroke-width="0.6"/>
<text x="454.6" y="336.6" font-size="7.66" text-anchor="start" font-weight="normal" fill="#111" >Non-nodulation</text>
<text x="407.4" y="540.9" font-size="11.1" text-anchor="middle" font-weight="normal" fill="#000" font-family="Liberation Serif, serif">(<tspan font-weight="bold">b</tspan>)</text>
</svg>
</body></html>
